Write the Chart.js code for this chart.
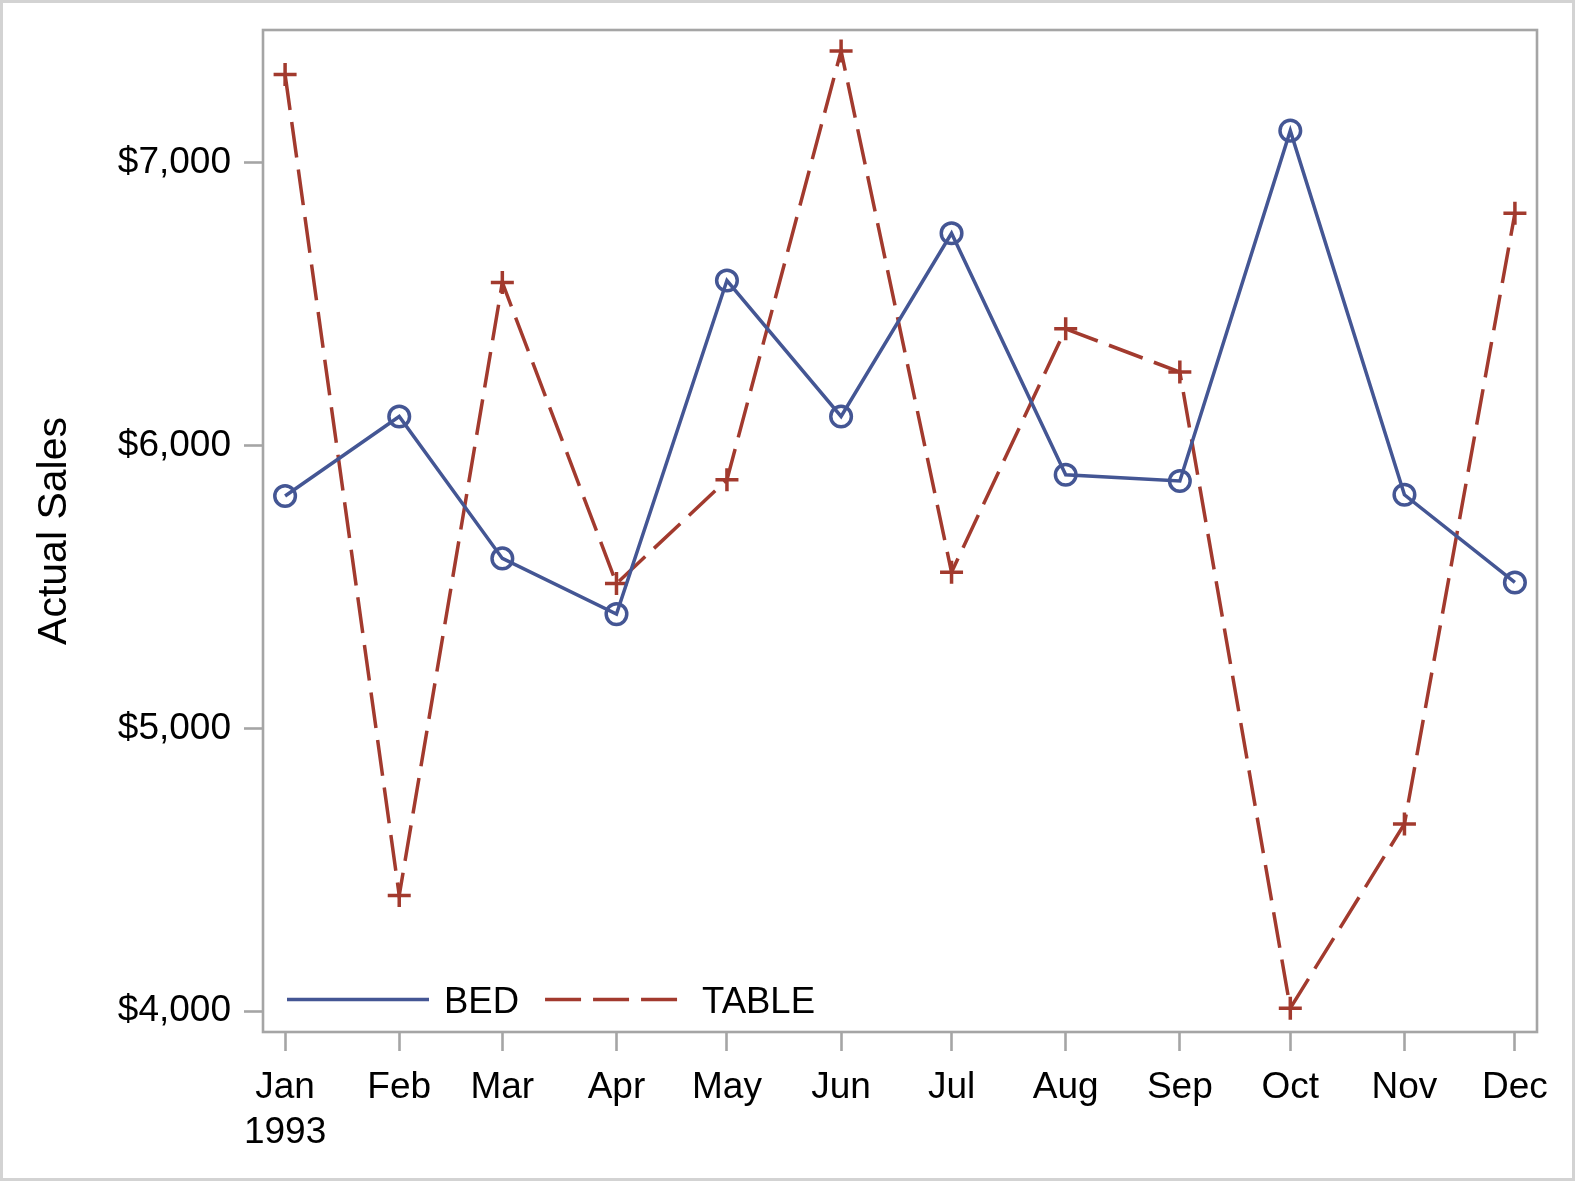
<!DOCTYPE html>
<html>
<head>
<meta charset="utf-8">
<script src="https://cdn.jsdelivr.net/npm/chart.js@4.4.1/dist/chart.umd.min.js"></script>
<style>
  html, body { margin: 0; padding: 0; background: #fff; }
  canvas { display: block; }
</style>
</head>
<body>
<canvas id="chart" width="1575" height="1181"></canvas>
<script>
"use strict";

/* ---------- data ---------- */
const months = ["1993-01-01", "1993-02-01", "1993-03-01", "1993-04-01", "1993-05-01", "1993-06-01",
                "1993-07-01", "1993-08-01", "1993-09-01", "1993-10-01", "1993-11-01", "1993-12-01"];
const monthLabels = ["Jan", "Feb", "Mar", "Apr", "May", "Jun", "Jul", "Aug", "Sep", "Oct", "Nov", "Dec"];
const yearLabel = "1993";
const bedSales   = [5822, 6103, 5601, 5404, 6584, 6103, 6751, 5897, 5875, 7114, 5826, 5516];
const tableSales = [7313, 4409, 6577, 5512, 5879, 7396, 5552, 6413, 6260, 4010, 4662, 6822];
const yTicks = [4000, 5000, 6000, 7000];
const yMin = 3926, yMax = 7470;
const xPadDays = 6;

const FONT = '"Liberation Sans", Arial, sans-serif';
const BLUE = "#445694", RED = "#A23A2E", FRAME = "#a5a5a5";

// days since Jan 1 -> linear x position
const dayOf = s => (Date.parse(s) - Date.parse(months[0])) / 86400000;
const xDays = months.map(dayOf);
const pts = vals => vals.map((v, i) => ({ x: xDays[i], y: v }));

/* ---------- plugins ---------- */
const frame = {
  id: "frame",
  beforeDraw(c) {
    const ctx = c.ctx;
    ctx.save();
    ctx.strokeStyle = "#d3d3d3"; ctx.lineWidth = 3;
    ctx.strokeRect(1.5, 1.5, c.width - 3, c.height - 3);
    ctx.restore();
  },
  beforeDatasetsDraw(c) {
    const { left, top, right, bottom } = c.chartArea, ctx = c.ctx;
    ctx.save();
    ctx.strokeStyle = FRAME; ctx.lineWidth = 2.6;
    ctx.strokeRect(left, top, right - left, bottom - top);
    ctx.restore();
  }
};

// legend inside the plot, bottom-left
const insideLegend = {
  id: "insideLegend",
  afterDatasetsDraw(c) {
    const ctx = c.ctx, a = c.chartArea;
    let x = a.left + 24;
    const y = a.bottom - 32.5;
    ctx.save();
    ctx.font = "36.5px " + FONT;
    ctx.textBaseline = "alphabetic";
    c.data.datasets.forEach(ds => {
      ctx.strokeStyle = ds.borderColor; ctx.lineWidth = ds.borderWidth;
      ctx.setLineDash(ds.borderDash || []);
      ctx.beginPath(); ctx.moveTo(x, y); ctx.lineTo(x + 142, y); ctx.stroke();
      ctx.setLineDash([]);
      x += 142 + 15;
      ctx.fillStyle = "#000";
      ctx.fillText(ds.label, x, y + 13);
      x += ctx.measureText(ds.label).width + 26;
    });
    ctx.restore();
  }
};

// keep the plot frame where the layout padding puts it
const noScalePad = s => { s.paddingTop = 0; s.paddingBottom = 0; s.paddingLeft = 0; s.paddingRight = 0; };

/* ---------- chart ---------- */
new Chart(document.getElementById("chart"), {
  type: "line",
  data: {
    datasets: [
      { label: "BED", data: pts(bedSales), borderColor: BLUE, borderWidth: 3.5,
        pointStyle: "circle", pointRadius: 10.3, pointBorderWidth: 3.5,
        pointBorderColor: BLUE, pointBackgroundColor: "rgba(0,0,0,0)", tension: 0, fill: false },
      { label: "TABLE", data: pts(tableSales), borderColor: RED, borderWidth: 3.5, borderDash: [36, 12],
        pointStyle: "cross", pointRadius: 11.5, pointBorderWidth: 3.5,
        pointBorderColor: RED, pointBackgroundColor: RED, tension: 0, fill: false }
    ]
  },
  options: {
    responsive: false, animation: false, devicePixelRatio: 1,
    layout: { padding: { left: 3, top: 30, right: 38, bottom: 3 } },
    scales: {
      x: {
        type: "linear", min: xDays[0] - xPadDays, max: xDays[xDays.length - 1] + xPadDays,
        afterBuildTicks: s => { s.ticks = xDays.map(v => ({ value: v })); },
        afterFit: s => { s.height = 146; noScalePad(s); },
        border: { display: false },
        grid: { drawOnChartArea: false, drawTicks: true, tickLength: 19, tickWidth: 2.6, tickColor: FRAME },
        ticks: {
          color: "#000", padding: 15, maxRotation: 0, autoSkip: false,
          font: { family: FONT, size: 37, lineHeight: 1.2 },
          callback: (v, i) => i === 0 ? [monthLabels[i], yearLabel] : monthLabels[i]
        }
      },
      y: {
        min: yMin, max: yMax,
        afterBuildTicks: s => { s.ticks = yTicks.map(v => ({ value: v })); },
        afterFit: s => { s.width = 260; noScalePad(s); },
        border: { display: false },
        grid: { drawOnChartArea: false, drawTicks: true, tickLength: 19, tickWidth: 2.6, tickColor: FRAME },
        ticks: {
          color: "#000", padding: 13,
          font: { family: FONT, size: 37 },
          callback: v => "$" + Number(v).toLocaleString("en-US")
        },
        title: { display: true, text: "Actual Sales", color: "#000",
                 font: { family: FONT, size: 41, lineHeight: 1.2 }, padding: { top: 27, bottom: 0 } }
      }
    },
    plugins: { legend: { display: false }, tooltip: { enabled: false } }
  },
  plugins: [frame, insideLegend]
});
</script>
</body>
</html>
